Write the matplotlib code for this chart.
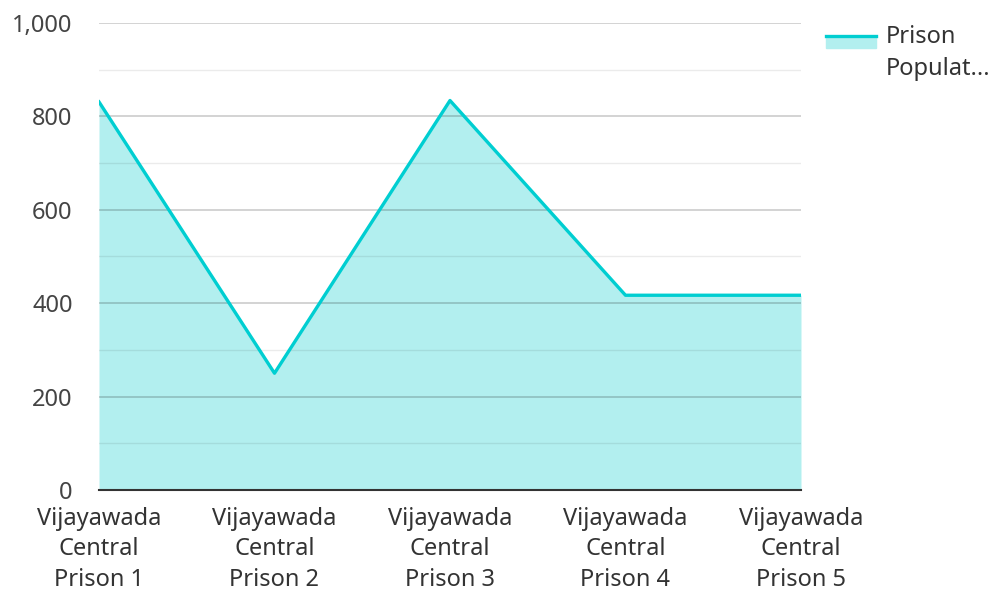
import matplotlib
matplotlib.use("Agg")
import matplotlib.pyplot as plt
from matplotlib.lines import Line2D
from matplotlib.ticker import MultipleLocator, FuncFormatter

plt.rcParams['font.family'] = ['Noto Sans', 'DejaVu Sans']

# data
prisons = ['Vijayawada\nCentral\nPrison 1', 'Vijayawada\nCentral\nPrison 2',
           'Vijayawada\nCentral\nPrison 3', 'Vijayawada\nCentral\nPrison 4',
           'Vijayawada\nCentral\nPrison 5']
population = [831, 250, 834, 417, 417]

line_col = '#00CED1'
fill_col = '#B2EFEF'

fig = plt.figure(figsize=(9.98, 5.94), dpi=100)
ax = fig.add_axes([0.0992, 0.1751, 0.7034, 0.7862])

x = list(range(len(prisons)))
ax.fill_between(x, population, 0, color=fill_col, lw=0, zorder=1)
ax.plot(x, population, color=line_col, lw=2.4, zorder=3)

ax.set_xlim(0, len(prisons) - 1)
ax.set_ylim(0, 1000)
ax.yaxis.set_major_locator(MultipleLocator(200))
ax.yaxis.set_minor_locator(MultipleLocator(100))
ax.yaxis.set_major_formatter(FuncFormatter(lambda v, p: f'{int(v):,}'))
ax.grid(axis='y', which='major', color='black', alpha=0.2, lw=1.2, zorder=2)
ax.grid(axis='y', which='minor', color='black', alpha=0.08, lw=1.0, zorder=2)
ax.set_axisbelow(False)

for s in ['top', 'right', 'left']:
    ax.spines[s].set_visible(False)
ax.spines['bottom'].set_color('#333333')
ax.spines['bottom'].set_linewidth(1.5)
ax.spines['bottom'].set_zorder(4)

ax.set_xticks(x)
ax.set_xticklabels(prisons, fontsize=17, color='#333333', linespacing=1.36)
ax.tick_params(axis='x', length=0, pad=12)
ax.tick_params(axis='y', which='both', length=0, labelsize=17, labelcolor='#444444', pad=19)

# legend drawn by hand to match the truncated label
fig.patches.append(plt.Rectangle((826 / 998, 1 - 48 / 594), 50 / 998, 12 / 594,
                                 transform=fig.transFigure, color=fill_col))
fig.lines.append(Line2D([826 / 998, 876 / 998], [1 - 36 / 594, 1 - 36 / 594],
                        transform=fig.transFigure, color=line_col, lw=2.4))
fig.text(886 / 998, 1 - 25 / 594, 'Prison\nPopulat...', fontsize=17, color='#333333',
         va='top', ha='left', linespacing=1.42)

fig.savefig('out.png', dpi=100)
